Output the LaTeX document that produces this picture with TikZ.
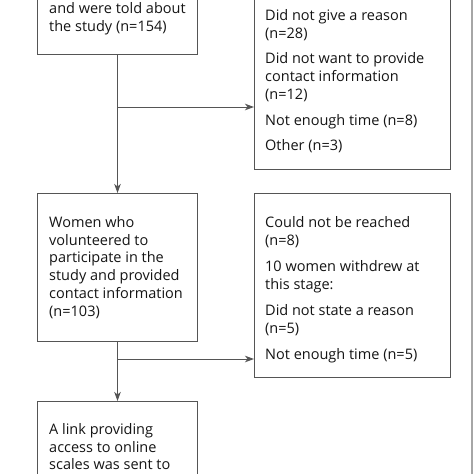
\documentclass[tikz,border=0pt]{standalone}
\usepackage{fontspec}
\setmainfont{Open Sans}
\usetikzlibrary{arrows.meta}
\definecolor{linec}{HTML}{555555}
\definecolor{textc}{HTML}{151515}
\tikzset{
  box/.style={draw=linec, line width=1pt, fill=white, inner sep=0pt, anchor=north west},
  txt/.style={anchor=north west, inner sep=0pt, align=left, text=textc,
    font=\fontsize{14.5}{17.8}\selectfont},
  conn/.style={draw=linec, line width=1pt},
  arr/.style={conn, -{Stealth[length=9pt,width=6.5pt,inset=2.5pt]}},
}
\begin{document}
\begin{tikzpicture}[x=1pt,y=-1pt]
\useasboundingbox (0,0) rectangle (474,474);
\clip (0,0) rectangle (474,474);
\fill[white] (0,0) rectangle (474,474);
% boxes
\node[box, minimum width=160pt, minimum height=114pt] (l1) at (37,-60) {};
\node[box, minimum width=196pt, minimum height=209pt] (r1) at (254,-40) {};
\node[box, minimum width=160pt, minimum height=148pt] (l2) at (37,193) {};
\node[box, minimum width=196pt, minimum height=184pt] (r2) at (254,193) {};
\node[box, minimum width=160pt, minimum height=100pt] (l3) at (37,401) {};
% texts
\node[txt] (t1) at (49,2) {and were told about\\the study (n=154)};
\node[txt] (t2) at (265,9) {Did not give a reason\\(n=28)\\[8pt]Did not want to provide\\contact information\\(n=12)\\[8pt]Not enough time (n=8)\\[7pt]Other (n=3)};
\node[txt] (t3) at (49,216) {Women who\\volunteered to\\participate in the\\study and provided\\contact information\\(n=103)};
\node[txt] (t4) at (265,216) {Could not be reached\\(n=8)\\[8.5pt]10 women withdrew at\\this stage:\\[8.5pt]Did not state a reason\\(n=5)\\[8.5pt]Not enough time (n=5)};
\node[txt] (t5) at (49,423) {A link providing\\access to online\\scales was sent to};
% connectors
\coordinate (b1) at (117,107);
\coordinate (b2) at (117,359);
\draw[arr] (l1.south) -- (l2.north);
\draw[arr] (b1) -- (b1 -| r1.west);
\draw[arr] (l2.south) -- (l3.north);
\draw[arr] (b2) -- (b2 -| r2.west);
% right edge line
\coordinate (e1) at (472,0);
\coordinate (e2) at (472,474);
\draw[draw=gray!70, line width=1.5pt] (e1) -- (e2);
\end{tikzpicture}
\end{document}
